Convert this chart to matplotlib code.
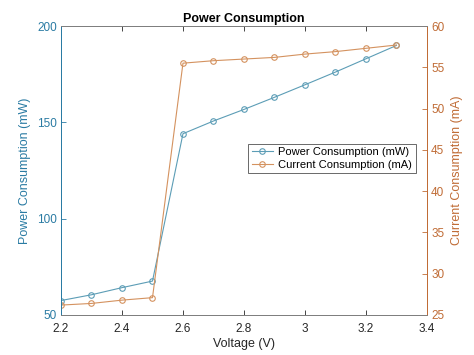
import matplotlib
matplotlib.use("Agg")
import matplotlib.pyplot as plt

plt.rcParams['font.family'] = ['Liberation Sans', 'DejaVu Sans']

voltage = [2.2, 2.3, 2.4, 2.5, 2.6, 2.7, 2.8, 2.9, 3.0, 3.1, 3.2, 3.3]
power_mw = [57.5, 60.5, 64.2, 67.6, 144.1, 150.7, 156.7, 163.0, 169.5, 176.1, 183.0, 189.9]
current_ma = [26.2, 26.4, 26.8, 27.1, 55.5, 55.8, 56.0, 56.2, 56.6, 56.9, 57.3, 57.7]

x_ticks = [2.2, 2.4, 2.6, 2.8, 3.0, 3.2, 3.4]
x_ticklabels = ['2.2', '2.4', '2.6', '2.8', '3', '3.2', '3.4']
left_ticks = [50, 100, 150, 200]
right_ticks = [25, 30, 35, 40, 45, 50, 55, 60]

blue_axis = '#2a7ba3'
orange_axis = '#c06c36'
blue_line = '#5c9db6'
orange_line = '#d4925f'
gray = '#7f7f7f'

fig = plt.figure(figsize=(4.74, 3.55), dpi=100)
ax = fig.add_axes([0.1287, 0.1127, 0.772, 0.814])
ax2 = ax.twinx()

l1, = ax.plot(voltage, power_mw, '-o', color=blue_line, lw=0.8, ms=4,
              mfc='none', mew=0.8, label='Power Consumption (mW)')
l2, = ax2.plot(voltage, current_ma, '-o', color=orange_line, lw=0.8, ms=4,
               mfc='none', mew=0.8, label='Current Consumption (mA)')

ax.set_xlim(2.2, 3.4)
ax.set_ylim(50, 200)
ax2.set_ylim(25, 60)
ax.set_xticks(x_ticks)
ax.set_xticklabels(x_ticklabels)
ax.set_yticks(left_ticks)
ax2.set_yticks(right_ticks)

ax.tick_params(axis='x', direction='in', top=True, length=3.5, width=0.6,
               colors='#262626', labelsize=8.5, pad=6)
ax.tick_params(axis='y', direction='in', length=3.5, width=0.6, colors=blue_axis,
               labelsize=8.5, pad=3)
ax2.tick_params(axis='y', direction='in', length=3.5, width=0.6, colors=orange_axis,
                labelsize=8.5, pad=3)

for a in (ax, ax2):
    a.spines['top'].set_color(gray)
    a.spines['bottom'].set_color(gray)
    a.spines['left'].set_color(blue_axis)
    a.spines['right'].set_color(orange_axis)
    for s in a.spines.values():
        s.set_linewidth(0.7)

ax.set_xlabel('Voltage (V)', fontsize=9, color='#262626', labelpad=2)
ax.set_ylabel('Power Consumption (mW)', fontsize=9, color=blue_axis, labelpad=4)
ax2.set_ylabel('Current Consumption (mA)', fontsize=9, color=orange_axis, labelpad=5)
ax.set_title('Power Consumption', fontsize=9, fontweight='bold', pad=3)

leg = ax2.legend(handles=[l1, l2], loc='upper left', bbox_to_anchor=(0.512, 0.593),
                 fontsize=8, frameon=True, fancybox=False, borderpad=0.3,
                 handlelength=1.9, handletextpad=0.5, labelspacing=0.25,
                 borderaxespad=0)
leg.get_frame().set_edgecolor('#262626')
leg.get_frame().set_linewidth(0.6)

fig.savefig('out.png', dpi=100)
